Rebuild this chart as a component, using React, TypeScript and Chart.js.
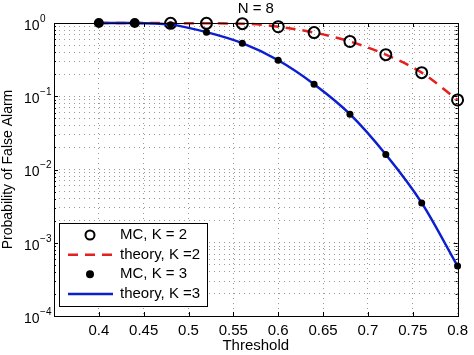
import React, { useEffect, useRef } from 'react';
import { Chart, registerables } from 'chart.js';
Chart.register(...registerables);

const thresholds = [0.4, 0.44, 0.48, 0.52, 0.56, 0.6, 0.64, 0.68, 0.72, 0.76, 0.8];
const mcK2 = [null, null, 0.99, 0.99, 0.98, 0.89, 0.74, 0.56, 0.37, 0.21, 0.089];
const theoryK2 = [1.0, 1.0, 0.995, 0.99, 0.98, 0.89, 0.74, 0.56, 0.37, 0.21, 0.089];
const mcK3 = [1.0, 1.0, 0.95, 0.75, 0.53, 0.31, 0.146, 0.057, 0.016, 0.0035, 0.00048];
const theoryK3 = [1.0, 1.0, 0.95, 0.75, 0.53, 0.31, 0.146, 0.057, 0.016, 0.0035, 0.00048];
const yMajorExponents = [0, -1, -2, -3, -4];
const legendLabels = ['MC, K = 2', 'theory, K =2', 'MC, K = 3', 'theory, K =3'];
const titleText = 'N = 8';
const xTitle = 'Threshold';
const yTitle = 'Probability of False Alarm';

const FONT = '"Liberation Sans", Arial, sans-serif';
const RED = '#e3211f';
const BLUE = '#0b1fcf';
const GRID = '#9a9a9a';

const toPts = (ys: (number | null)[]) => thresholds.map((x, i) => ({ x, y: ys[i] }));

export default function App() {
  const ref = useRef<HTMLCanvasElement>(null);
  useEffect(() => {
    const overlay = {
      id: 'overlay',
      afterDraw(chart: any) {
        const ctx = chart.ctx;
        const ca = chart.chartArea;
        const xs = chart.scales.x;
        const ys = chart.scales.y;
        ctx.save();
        // inward tick marks
        ctx.strokeStyle = '#000';
        ctx.lineWidth = 1;
        ctx.setLineDash([]);
        ctx.beginPath();
        for (let v = 0.4; v < 0.79; v += 0.05) {
          const px = Math.round(xs.getPixelForValue(v)) + 0.5;
          ctx.moveTo(px, ca.bottom); ctx.lineTo(px, ca.bottom - 4);
          ctx.moveTo(px, ca.top); ctx.lineTo(px, ca.top + 4);
        }
        ys.ticks.forEach((t: any) => {
          const py = Math.round(ys.getPixelForValue(t.value)) + 0.5;
          const major = Math.abs(Math.log10(t.value) - Math.round(Math.log10(t.value))) < 1e-9;
          const len = major ? 4 : 2;
          ctx.moveTo(ca.left, py); ctx.lineTo(ca.left + len, py);
          ctx.moveTo(ca.right, py); ctx.lineTo(ca.right - len, py);
        });
        ctx.stroke();
        // frame
        ctx.strokeRect(Math.round(ca.left) + 0.5, Math.round(ca.top) + 0.5, Math.round(ca.right - ca.left), Math.round(ca.bottom - ca.top));

        // y labels 10^e
        ctx.fillStyle = '#000';
        ctx.textBaseline = 'middle';
        ctx.textAlign = 'left';
        yMajorExponents.forEach((e) => {
          const py = ys.getPixelForValue(Math.pow(10, e));
          ctx.font = `14px ${FONT}`;
          ctx.fillText('10', 24, py + 3);
          const w = ctx.measureText('10').width;
          ctx.font = `10px ${FONT}`;
          ctx.fillText(e === 0 ? '0' : '\u2212' + String(-e), 24 + w + 0.5, py - 4);
        });

        // title
        ctx.font = `15px ${FONT}`;
        ctx.textAlign = 'center';
        ctx.fillText(titleText, (ca.left + ca.right) / 2, 9);

        // legend
        const lx = ca.left + 5;
        const lw = 148;
        const lh = 83;
        const ly = ca.bottom - 10 - lh;
        ctx.fillStyle = '#fff';
        ctx.fillRect(lx, ly, lw, lh);
        ctx.strokeStyle = '#000';
        ctx.lineWidth = 1;
        ctx.strokeRect(Math.round(lx) + 0.5, Math.round(ly) + 0.5, lw, lh);
        const rows = [12, 31.7, 51.3, 71];
        const sx0 = lx + 9;
        const sx1 = lx + 54;
        const mx = lx + 31;
        ctx.beginPath();
        ctx.lineWidth = 2;
        ctx.arc(mx, ly + rows[0], 4.5, 0, Math.PI * 2);
        ctx.stroke();
        ctx.beginPath();
        ctx.strokeStyle = RED;
        ctx.lineWidth = 2.5;
        ctx.setLineDash([10, 7]);
        ctx.moveTo(sx0, ly + rows[1]); ctx.lineTo(sx1, ly + rows[1]);
        ctx.stroke();
        ctx.setLineDash([]);
        ctx.beginPath();
        ctx.fillStyle = '#000';
        ctx.arc(mx, ly + rows[2], 4, 0, Math.PI * 2);
        ctx.fill();
        ctx.beginPath();
        ctx.strokeStyle = BLUE;
        ctx.lineWidth = 2.5;
        ctx.moveTo(sx0, ly + rows[3]); ctx.lineTo(sx1, ly + rows[3]);
        ctx.stroke();
        ctx.fillStyle = '#000';
        ctx.font = `15px ${FONT}`;
        ctx.textAlign = 'left';
        legendLabels.forEach((s, i) => ctx.fillText(s, lx + 61, ly + rows[i]));
        ctx.restore();
      },
    };

    const chart = new Chart(ref.current as HTMLCanvasElement, {
      type: 'line',
      data: {
        datasets: [
          {
            label: legendLabels[2],
            data: toPts(mcK3),
            showLine: false,
            pointStyle: 'circle',
            pointRadius: [5, 5, 3.5, 3.5, 3.5, 3.5, 3.5, 3.5, 3.5, 3.5, 3.5],
            pointBackgroundColor: '#000',
            pointBorderColor: '#000',
            pointBorderWidth: 0,
            order: 0,
            clip: false,
          },
          {
            label: legendLabels[3],
            data: toPts(theoryK3),
            borderColor: BLUE,
            borderWidth: 2.5,
            pointRadius: 0,
            cubicInterpolationMode: 'monotone',
            fill: false,
            order: 1,
            clip: false,
          },
          {
            label: legendLabels[0],
            data: toPts(mcK2),
            showLine: false,
            pointStyle: 'circle',
            pointRadius: 5.5,
            pointBackgroundColor: 'rgba(0,0,0,0)',
            pointBorderColor: '#000',
            pointBorderWidth: 2,
            order: 2,
            clip: false,
          },
          {
            label: legendLabels[1],
            data: toPts(theoryK2),
            borderColor: RED,
            borderWidth: 2.5,
            borderDash: [10, 7],
            pointRadius: 0,
            cubicInterpolationMode: 'monotone',
            fill: false,
            order: 3,
            clip: false,
          },
        ],
      },
      options: {
        animation: false,
        responsive: false,
        maintainAspectRatio: false,
        layout: { padding: { top: 23, right: 11, left: 0, bottom: 0 } },
        plugins: { legend: { display: false }, title: { display: false }, tooltip: { enabled: false } },
        scales: {
          x: {
            type: 'linear',
            min: 0.35,
            max: 0.8,
            ticks: {
              stepSize: 0.05,
              autoSkip: false,
              maxRotation: 0,
              padding: 6,
              color: '#000',
              font: { family: FONT, size: 15 },
              callback: (v: any) => (Math.abs(v - 0.35) < 1e-6 ? '' : String(Number(Number(v).toFixed(2)))),
            },
            grid: { color: GRID, lineWidth: 1, drawTicks: false },
            border: { display: false, dash: [1, 4] },
            title: { display: true, text: xTitle, color: '#000', font: { family: FONT, size: 15 }, padding: { top: 0, bottom: 0 } },
            afterFit: (s: any) => { s.height = 39; },
          },
          y: {
            type: 'logarithmic',
            min: 1e-4,
            max: 1,
            afterBuildTicks: (s: any) => {
              const t: any[] = [];
              for (let e = -4; e <= 0; e++) {
                for (let m = 1; m <= 9; m++) {
                  const v = m * Math.pow(10, e);
                  if (v <= 1.0000001) t.push({ value: v });
                }
              }
              s.ticks = t;
            },
            ticks: { autoSkip: false, callback: () => '', padding: 0 },
            grid: { color: GRID, lineWidth: 1, drawTicks: false },
            border: { display: false, dash: [1, 4] },
            title: { display: true, text: yTitle, color: '#000', font: { family: FONT, size: 14 }, padding: { top: 0, bottom: 0 } },
            afterFit: (s: any) => { s.width = 54; },
          },
        },
      },
      plugins: [overlay],
    } as any);
    return () => chart.destroy();
  }, []);
  return (
    <div style={{ position: 'fixed', left: 0, top: 0, width: 474, height: 355, background: '#fff' }}>
      <canvas ref={ref} width={474} height={355} style={{ display: 'block' }} />
    </div>
  );
}
